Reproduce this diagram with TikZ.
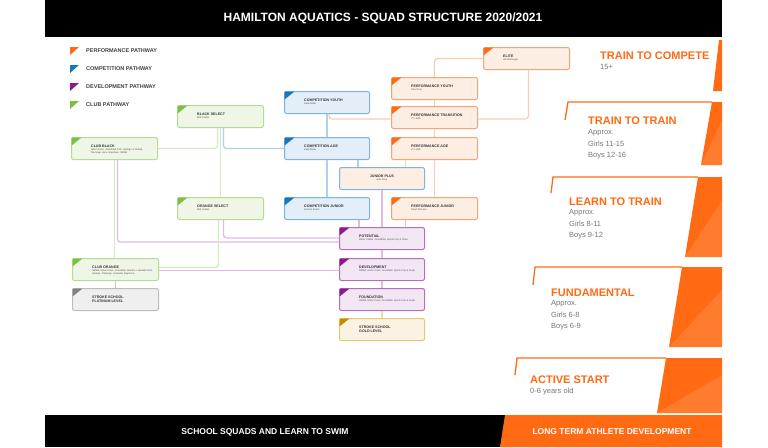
\documentclass[tikz,border=0pt]{standalone}
\usepackage{fontspec}
\setmainfont{Liberation Sans}
\definecolor{pdark}{HTML}{FF6A13}\definecolor{pfill}{HTML}{FDEEE4}\definecolor{pbord}{HTML}{F7A373}\definecolor{pline}{HTML}{F9CDB2}
\definecolor{cdark}{HTML}{1A75C0}\definecolor{cfill}{HTML}{E3EEF8}\definecolor{cbord}{HTML}{7CB3E0}\definecolor{cline}{HTML}{B0D0EC}
\definecolor{ddark}{HTML}{8B1A8F}\definecolor{dfill}{HTML}{F3E6F4}\definecolor{dbord}{HTML}{B86EBB}\definecolor{dline}{HTML}{E0BCE1}
\definecolor{gdark}{HTML}{7AC143}\definecolor{gfill}{HTML}{EFF6E6}\definecolor{gbord}{HTML}{B5DC93}\definecolor{gline}{HTML}{D3EBBF}
\definecolor{sdark}{HTML}{808080}\definecolor{sfill}{HTML}{EFEFEF}\definecolor{sbord}{HTML}{BDBDBD}\definecolor{sline}{HTML}{C8C8C8}
\definecolor{ydark}{HTML}{C48A00}\definecolor{yfill}{HTML}{FAF3E3}\definecolor{ybord}{HTML}{E8C66F}\definecolor{yline}{HTML}{EED9A6}
\definecolor{ltad}{HTML}{FF6A13}\definecolor{subg}{HTML}{777777}
\newcommand\sqbox[7]{%
  \node[draw=#5bord,fill=#5fill,line width=1pt,rounded corners=2pt,minimum width=#4pt,minimum height=22pt,anchor=north west,inner sep=0pt] (#1) at (#2,#3) {};
  \fill[#5dark] ([xshift=0.5pt,yshift=-0.5pt]#1.north west) -- ++(10,0) -- ++(-10,8) -- cycle;
  \node[anchor=south west,inner sep=0pt,font=\fontsize{3.6}{4}\selectfont\bfseries,text=black!80,align=left] at ([xshift=20pt,yshift=0.5pt]#1.west) {#6};
  \node[anchor=north west,inner sep=0pt,font=\fontsize{2.4}{2.9}\selectfont,text=black!70,align=left,text width=62pt] at ([xshift=20pt,yshift=-0.5pt]#1.west) {#7};}
\newcommand\sqboxb[7]{%
  \node[draw=#5bord,fill=#5fill,line width=1pt,rounded corners=2pt,minimum width=#4pt,minimum height=22pt,anchor=north west,inner sep=0pt] (#1) at (#2,#3) {};
  \fill[#5dark] ([xshift=0.5pt,yshift=-0.5pt]#1.north west) -- ++(10,0) -- ++(-10,8) -- cycle;
  \node[anchor=west,inner sep=0pt,font=\fontsize{3.6}{4.3}\selectfont\bfseries,text=black!80,align=left] at ([xshift=20pt]#1.west) {#6};}
\tikzset{conn/.style={line width=1.3pt,rounded corners=3pt},
  stitle/.style={anchor=west,inner sep=0pt,font=\fontsize{11}{12}\selectfont\bfseries,text=ltad},
  ssub/.style={anchor=north west,inner sep=0pt,font=\fontsize{7.5}{11.8}\selectfont,text=subg,align=left},
  leg/.style={anchor=west,inner sep=0pt,font=\fontsize{5.5}{6}\selectfont\bfseries,text=black!75}}
\begin{document}
\begin{tikzpicture}[x=1pt,y=-1pt]
\useasboundingbox (0,0) rectangle (768,447);
\fill[white] (0,0) rectangle (768,447);
% bars
\fill[black] (45,0) rectangle (722,37);
\node[font=\fontsize{12}{13}\selectfont\bfseries,text=white] (title) at (383,18) {HAMILTON AQUATICS - SQUAD STRUCTURE 2020/2021};
\fill[black] (45,415) rectangle (505,447);
\fill[ltad] (505,415) -- (722,415) -- (722,447) -- (500,447) -- cycle;
\node[font=\fontsize{8.5}{9}\selectfont\bfseries,text=white] (bl) at (265,432) {SCHOOL SQUADS AND LEARN TO SWIM};
\node[font=\fontsize{8.5}{9}\selectfont\bfseries,text=white] (br) at (612,432) {LONG TERM ATHLETE DEVELOPMENT};
% stages
\fill[ltad] (719,40) -- (722,40) -- (722,91) -- (713,91) -- cycle;
\draw[ltad,line width=1.3pt] (565,120) -- (568,102) -- (712,102);
\fill[ltad] (712,102) -- (722,102) -- (722,165) -- (701,165) -- cycle;
\draw[ltad,line width=1.3pt] (551,193) -- (553,177) -- (698,177);
\fill[ltad] (698,177) -- (722,177) -- (722,257) -- (685,257) -- cycle;
\draw[ltad,line width=1.3pt] (533,285) -- (535,267) -- (682,267);
\fill[ltad] (682,267) -- (722,267) -- (722,347) -- (669,347) -- cycle;
\draw[ltad,line width=1.3pt] (515,375) -- (517,358) -- (666,358);
\fill[ltad] (666,358) -- (722,358) -- (722,413) -- (657,413) -- cycle;
\fill[white,opacity=0.12] (722,120) -- (722,165) -- (701,165) -- cycle;
\fill[white,opacity=0.12] (722,200) -- (722,257) -- (685,257) -- cycle;
\fill[white,opacity=0.12] (722,290) -- (722,347) -- (669,347) -- cycle;
\fill[white,opacity=0.12] (722,375) -- (722,413) -- (657,413) -- cycle;
\node[stitle] (s1) at (600,56) {TRAIN TO COMPETE};
\node[ssub] (s1s) at (600,64) {15+};
\node[stitle] (s2) at (588,121) {TRAIN TO TRAIN};
\node[ssub] (s2s) at (588,129) {Approx.\\Girls 11-15\\Boys 12-16};
\node[stitle] (s3) at (569,202) {LEARN TO TRAIN};
\node[ssub] (s3s) at (569,209) {Approx.\\Girls 8-11\\Boys 9-12};
\node[stitle] (s4) at (551,293) {FUNDAMENTAL};
\node[ssub] (s4s) at (551,300) {Approx.\\Girls 6-8\\Boys 6-9};
\node[stitle] (s5) at (530,380) {ACTIVE START};
\node[ssub] (s5s) at (530,388) {0-6 years old};
% legend
\foreach \c/\t/\y [count=\i] in {pdark/PERFORMANCE PATHWAY/51,cdark/COMPETITION PATHWAY/69,ddark/DEVELOPMENT PATHWAY/87,gdark/CLUB PATHWAY/105}{
  \fill[\c] (70,\y-4) -- (79,\y-4) -- (70,\y+4) -- cycle;
  \node[leg] (leg\i) at (86,\y) {\t};}
% boxes
\sqbox{bselect}{177}{105}{86}{g}{BLACK SELECT}{Will Jordan}
\sqbox{cblack}{71}{137}{86}{g}{CLUB BLACK}{Hilton Crest, Jonesfield Park, Springs of Oxford, Flamingo Lane, Bayshore, NMSB}
\sqbox{oselect}{177}{197}{86}{g}{ORANGE SELECT}{Will Jordan}
\sqbox{corange}{72}{258}{86}{g}{CLUB ORANGE}{NMSB, Hilton Crest, Jonesfield, Arbutus, Lakeside Park, Springs, Flamingo, Lakeside, Bayshore}
\sqboxb{platinum}{72}{288}{86}{s}{STROKE SCHOOL\\PLATINUM LEVEL}{}
\sqbox{cyouth}{284}{91}{85}{c}{COMPETITION YOUTH}{Katie Boak}
\sqbox{cage}{284}{137}{85}{c}{COMPETITION AGE}{Katie Boak}
\sqbox{cjunior}{284}{197}{85}{c}{COMPETITION JUNIOR}{Jessica Evans}
\sqbox{elite}{483}{47}{86}{p}{ELITE}{Ian McGregor}
\sqbox{pyouth}{391}{77}{86}{p}{PERFORMANCE YOUTH}{Alex Gray}
\sqbox{ptrans}{391}{106}{86}{p}{PERFORMANCE TRANSITION}{JT Lamb}
\sqbox{page}{391}{137}{86}{p}{PERFORMANCE AGE}{JT Lamb}
\node[draw=cbord,fill=pfill,line width=1pt,rounded corners=2pt,minimum width=85pt,minimum height=22pt,anchor=north west,inner sep=0pt] (jplus) at (339,167) {};
\node[inner sep=0pt,font=\fontsize{3.6}{4}\selectfont\bfseries,text=black!80,anchor=south] at ([yshift=0.5pt]jplus.center) {JUNIOR PLUS};
\node[inner sep=0pt,font=\fontsize{2.4}{3}\selectfont,text=black!70,anchor=north] at ([yshift=-0.5pt]jplus.center) {Alex Gray};
\sqbox{pjunior}{391}{197}{86}{p}{PERFORMANCE JUNIOR}{Steph McLean}
\sqbox{potential}{339}{227}{85}{d}{POTENTIAL}{Oliver Clarke, Jonesfield, Sports City \& Pulse}
\sqbox{dev}{339}{258}{85}{d}{DEVELOPMENT}{NMSB, Hilton Crest, Jonesfield, Sports City \& Pulse}
\sqbox{found}{339}{288}{85}{d}{FOUNDATION}{NMSB, Hilton Crest, Jonesfield, Sports City \& Pulse}
\sqboxb{gold}{339}{318}{85}{y}{STROKE SCHOOL\\GOLD LEVEL}{}
% connectors
\begin{scope}[on background layer/.style={}]
\end{scope}
\draw[conn,gline] (cblack.east) -| ([xshift=-3pt]bselect.south);
\draw[conn,gline] (bselect.south) -- (oselect.north);
\draw[conn,cline] ([xshift=3pt]bselect.south) |- (cage.west);
\draw[conn,gline] (cblack.south) -- (cblack.south |- corange.north);
\draw[conn,dline] ([xshift=3pt]cblack.south) |- ([yshift=-3.5pt]potential.west);
\draw[conn,dline] ([xshift=3pt]oselect.south) |- ([yshift=0.5pt]potential.west);
\draw[conn,gline] ([xshift=-2pt]oselect.south) |- ([yshift=2pt]corange.east);
\draw[conn,dline] ([yshift=-1pt]corange.east) -- ([yshift=-1pt]dev.west);
\draw[conn,sline] (corange.south) -- (platinum.north);
\draw[conn,cline] (cyouth.south) -- (cage.north);
\draw[conn,cline] (cage.south) -- (cjunior.north);
\draw[conn,cline] ([xshift=31pt]cage.south) -- ([xshift=31pt]cage.south |- jplus.north);
\draw[conn,pline] ([xshift=2pt]cyouth.south) |- ([yshift=-1.5pt]ptrans.west);
\draw[conn,pline] (elite.west) -| (pyouth.north);
\draw[conn,pline] ([xshift=2pt]elite.south) |- ([yshift=-1.5pt]ptrans.east);
\draw[conn,pline] (pyouth.south) -- (ptrans.north);
\draw[conn,pline] (ptrans.south) -- (page.north);
\draw[conn,pline] (page.south) -- (pjunior.north);
\draw[conn,pline] ([xshift=-29pt]page.south) -- ([xshift=-29pt]page.south |- jplus.north);
\draw[conn,dline] (jplus.south) -- (jplus.south |- potential.north);
\draw[conn,dline] ([xshift=32pt]cjunior.south) -- ([xshift=32pt]cjunior.south |- potential.north);
\draw[conn,dline] ([xshift=-29pt]pjunior.south) -- ([xshift=-29pt]pjunior.south |- potential.north);
\draw[conn,dline] (potential.south) -- (dev.north);
\draw[conn,dline] (dev.south) -- (found.north);
\draw[conn,yline] (found.south) -- (gold.north);
\end{tikzpicture}
\end{document}
